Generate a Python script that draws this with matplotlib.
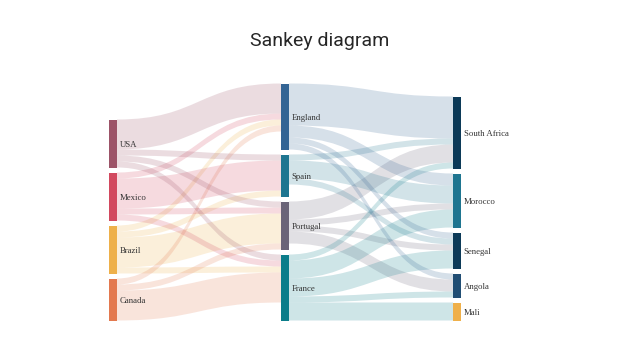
import matplotlib.pyplot as plt
from matplotlib.path import Path
from matplotlib.patches import PathPatch, Rectangle

# data
sources = ['Brazil', 'Brazil', 'Brazil', 'Brazil', 'Canada', 'Canada', 'Canada',
           'Mexico', 'Mexico', 'Mexico', 'Mexico', 'USA', 'USA', 'USA', 'USA',
           'Portugal', 'Portugal', 'Portugal', 'Portugal',
           'France', 'France', 'France', 'France', 'France',
           'Spain', 'Spain', 'Spain',
           'England', 'England', 'England', 'England']
targets = ['Portugal', 'France', 'Spain', 'England', 'Portugal', 'France', 'England',
           'Portugal', 'France', 'Spain', 'England', 'Portugal', 'France', 'Spain', 'England',
           'Angola', 'Senegal', 'Morocco', 'South Africa',
           'Angola', 'Senegal', 'Mali', 'Morocco', 'South Africa',
           'Senegal', 'Morocco', 'South Africa',
           'Angola', 'Senegal', 'Morocco', 'South Africa']
values = [5, 1, 1, 1, 1, 5, 1,
          1, 1, 5, 1, 1, 1, 1, 5,
          2, 1, 1, 3,
          1, 3, 3, 3, 1,
          1, 3, 1,
          1, 1, 2, 7]

columns = [['USA', 'Mexico', 'Brazil', 'Canada'],
           ['England', 'Spain', 'Portugal', 'France'],
           ['South Africa', 'Morocco', 'Senegal', 'Angola', 'Mali']]

node_colors = {
    'USA': '#9c5468', 'Mexico': '#d2495f', 'Brazil': '#eeb04a', 'Canada': '#e3794f',
    'England': '#336494', 'Spain': '#1e7590', 'Portugal': '#6b6478', 'France': '#0b7d8a',
    'South Africa': '#0c3a58', 'Morocco': '#1e7590', 'Senegal': '#0c3a58',
    'Angola': '#214e74', 'Mali': '#efb04a',
}

# layout (pixels)
col_x = [109, 281, 453]
node_w = 8
k = 6.0      # px per unit
gap = 5.0
bottom = 320.5

fig = plt.figure(figsize=(6.4, 3.6), dpi=100)
ax = fig.add_axes([0, 0, 1, 1])
ax.set_xlim(0, 640)
ax.set_ylim(360, 0)
ax.axis('off')

# node sizes
inflow = {}
outflow = {}
for s, t, v in zip(sources, targets, values):
    outflow[s] = outflow.get(s, 0) + v
    inflow[t] = inflow.get(t, 0) + v

pos = {}
order = {}
for ci, col in enumerate(columns):
    sizes = [max(inflow.get(n, 0), outflow.get(n, 0)) for n in col]
    total = sum(sizes) * k + (len(col) - 1) * gap
    y = bottom - total
    for i, (n, sz) in enumerate(zip(col, sizes)):
        pos[n] = (col_x[ci], y, sz * k)
        order[n] = (ci, i)
        y += sz * k + gap

# links: stack outgoing by target order, incoming by source order
links = list(zip(sources, targets, values))
out_off = {n: pos[n][1] for n in pos}
in_off = {n: pos[n][1] for n in pos}
link_geo = {}
for s, t, v in sorted(links, key=lambda l: (order[l[0]], order[l[1]])):
    link_geo.setdefault((s, t), {})['s'] = out_off[s]
    out_off[s] += v * k
for s, t, v in sorted(links, key=lambda l: (order[l[1]], order[l[0]])):
    link_geo[(s, t)]['t'] = in_off[t]
    in_off[t] += v * k

for s, t, v in links:
    x0 = pos[s][0] + node_w
    x1 = pos[t][0]
    xm = (x0 + x1) / 2
    ys = link_geo[(s, t)]['s']
    yt = link_geo[(s, t)]['t']
    h = v * k
    verts = [(x0, ys), (xm, ys), (xm, yt), (x1, yt),
             (x1, yt + h),
             (xm, yt + h), (xm, ys + h), (x0, ys + h),
             (x0, ys)]
    codes = [Path.MOVETO, Path.CURVE4, Path.CURVE4, Path.CURVE4,
             Path.LINETO,
             Path.CURVE4, Path.CURVE4, Path.CURVE4,
             Path.CLOSEPOLY]
    ax.add_patch(PathPatch(Path(verts, codes), facecolor=node_colors[s],
                           edgecolor='none', alpha=0.2, zorder=1))

for n, (x, y, h) in pos.items():
    ax.add_patch(Rectangle((x, y), node_w, h, facecolor=node_colors[n],
                           edgecolor='none', zorder=3))
    ax.text(x + node_w + 2.5, y + h / 2 + 1.2, n, fontsize=6.3, family='Liberation Serif',
            color='#333333', va='center', ha='left', zorder=4)

ax.text(320, 41, 'Sankey diagram', fontsize=14, family='Roboto',
        color='#262626', ha='center', va='center')

fig.savefig('out.png', dpi=100)
